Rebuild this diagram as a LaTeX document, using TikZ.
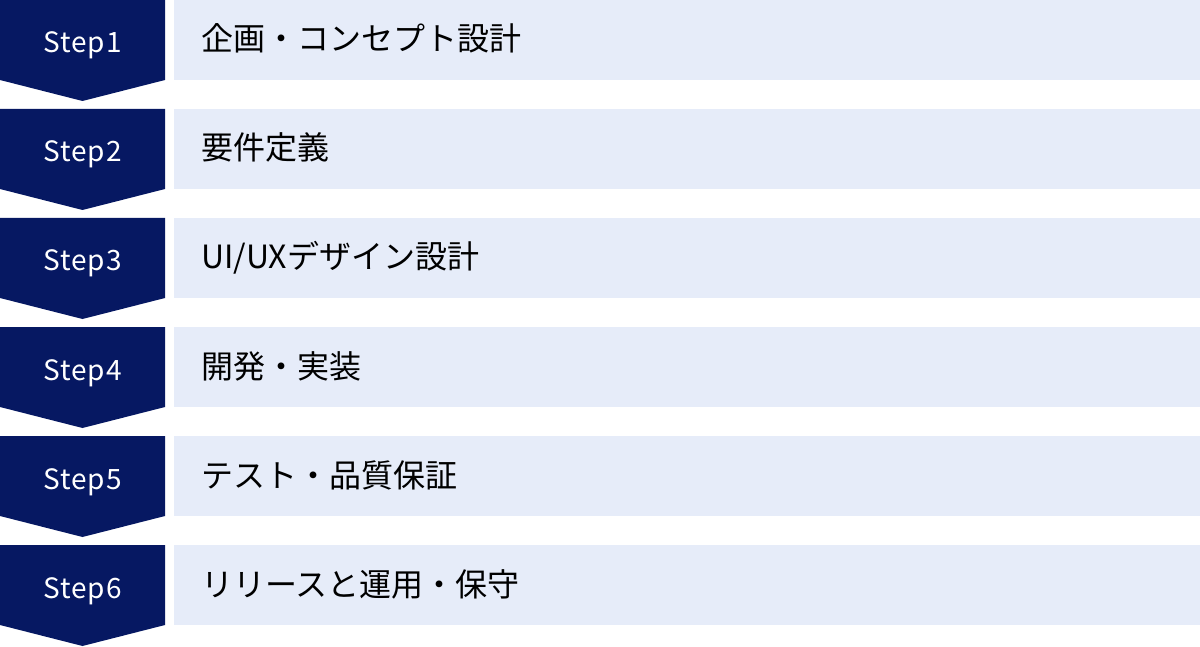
\documentclass[tikz,border=0pt]{standalone}
\usepackage{fontspec}
\setmainfont{Noto Sans CJK JP}
\newfontfamily\stepfont[LetterSpace=4]{Noto Sans CJK JP}
\definecolor{navy}{RGB}{6,24,98}
\definecolor{pale}{RGB}{230,236,249}
\tikzset{
  chevron/.style={fill=navy,draw=none},
  steplabel/.style={text=white,font=\stepfont\fontsize{28}{32}\selectfont,inner sep=0pt,anchor=base},
  panel/.style={fill=pale,draw=none,inner sep=0pt,minimum width=1026pt,minimum height=80pt,anchor=north west},
  paneltext/.style={text=black,font=\fontsize{32}{36}\selectfont,inner sep=0pt,anchor=base west}
}
\begin{document}
\begin{tikzpicture}[x=1pt,y=-1pt]
\useasboundingbox (0,0) rectangle (1200,647);
\foreach \i/\t in {1/{企画・コンセプト設計},2/{要件定義},3/{UI/UXデザイン設計},4/{開発・実装},5/{テスト・品質保証},6/{リリースと運用・保守}}{
  \pgfmathsetmacro{\top}{(\i-1)*109}
  \fill[chevron] (0,\top) -- (165,\top) -- (165,\top+80) -- (82.5,\top+101) -- (0,\top+80) -- cycle;
  \node[steplabel] (s\i) at (82.5,\top+53) {Step\i};
  \node[panel] (p\i) at (174,\top) {};
  \node[paneltext] (t\i) at (201,\top+51) {\t};
}
\end{tikzpicture}
\end{document}
